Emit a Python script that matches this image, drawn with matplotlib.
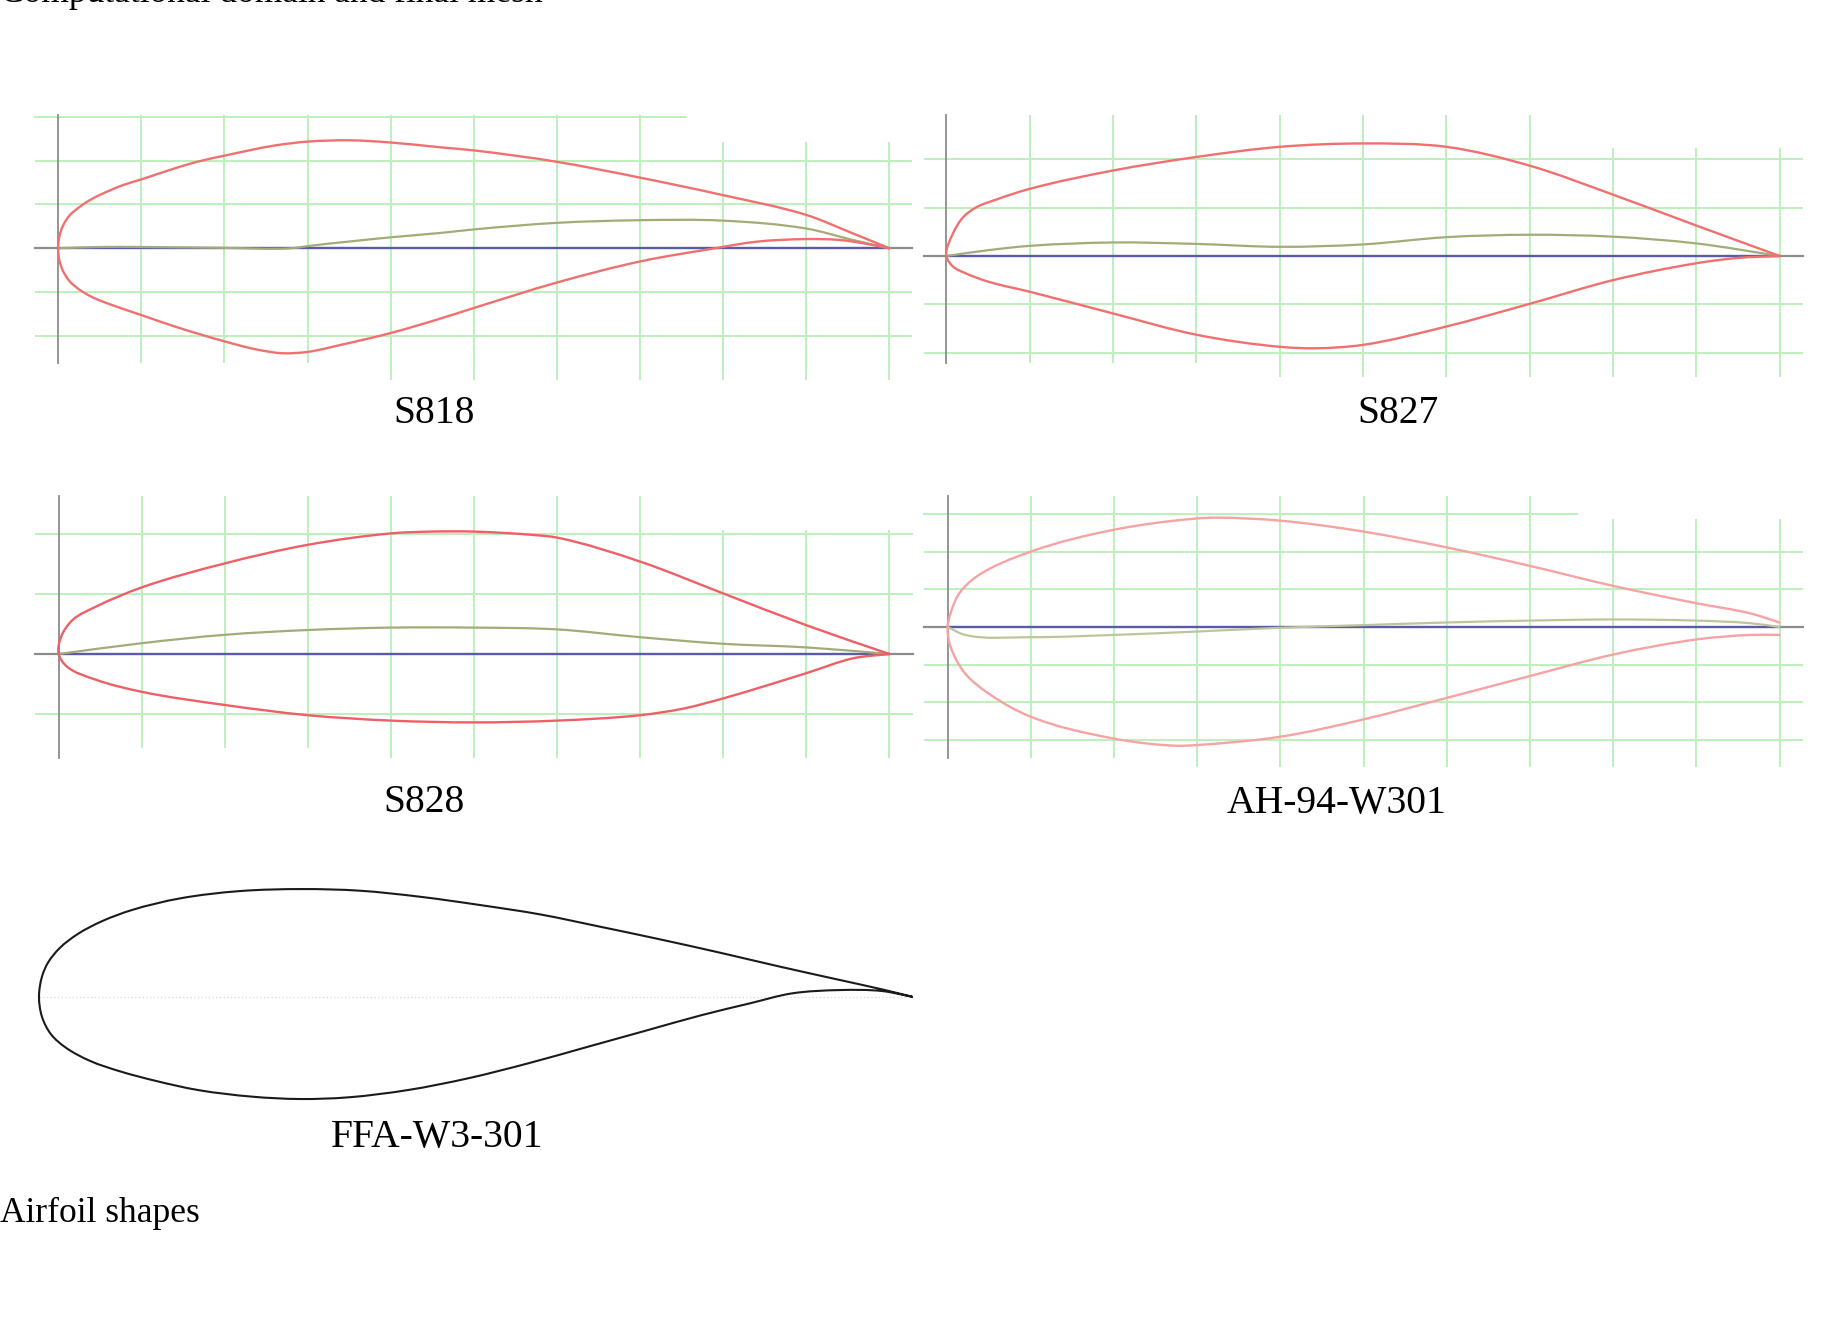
import matplotlib
matplotlib.use("Agg")
import matplotlib.pyplot as plt
import numpy as np
from matplotlib.path import Path
from matplotlib.patches import PathPatch

W, H, DPI = 1849, 1343, 100

# ---------------- data (x and y as fractions of chord) ----------------
s818_xu = [0, .0013, .0062, .0142, .0262, .0383, .0543, .0783, .1005, .1345, .167, .20, .26, .30, .35, .40, .46, .50, .60, .70, .80, .90, .956, 1.0]
s818_yu = [0, .0132, .0265, .0379, .0474, .055, .0626, .0721, .0786, .0893, .0985, .1055, .117, .1215, .123, .1205, .115, .1115, .0985, .0805, .0605, .038, .017, 0]
s818_xl = [0, .0013, .0062, .0142, .0262, .0422, .0704, .10, .14, .20, .24, .27, .30, .34, .40, .46, .50, .60, .70, .79, .84, .90, .94, .97, 1.0]
s818_yl = [0, -.0133, -.0266, -.038, -.0475, -.0562, -.0665, -.076, -.089, -.106, -.1155, -.1195, -.118, -.110, -.0965, -.080, -.068, -.039, -.015, 0, .0075, .0105, .0095, .0055, 0]
s818_xc = [0, .05, .10, .20, .28, .30, .40, .46, .50, .60, .70, .80, .90, .956, 1.0]
s818_yc = [0, .0015, .0015, .0005, 0, .0025, .0125, .0175, .0215, .029, .032, .0315, .0225, .0095, 0]

s827_xu = [0, .008, .02, .035, .06, .10, .20, .30, .40, .50, .60, .70, .80, .90, 1.0]
s827_yu = [0, .0235, .040, .050, .0585, .0695, .0885, .1025, .113, .1165, .113, .0935, .0635, .0315, 0]
s827_xl = [0, .008, .022, .05, .10, .20, .30, .40, .444, .50, .60, .70, .80, .90, .95, 1.0]
s827_yl = [0, -.011, -.0175, -.0265, -.037, -.0595, -.0815, -.094, -.0955, -.092, -.073, -.0495, -.025, -.0075, -.002, 0]
s827_xc = [0, .05, .10, .20, .30, .40, .50, .60, .70, .80, .90, 1.0]
s827_yc = [0, .006, .0105, .014, .0125, .0095, .012, .0195, .022, .020, .013, 0]

s828_xu = [0, .003, .017, .045, .10, .20, .30, .40, .448, .50, .575, .60, .70, .80, .90, 1.0]
s828_yu = [0, .0145, .0285, .0395, .0555, .0755, .091, .1005, .102, .102, .099, .097, .077, .0505, .024, 0]
s828_xl = [0, .01, .045, .10, .20, .30, .40, .50, .60, .70, .752, .80, .90, .957, 1.0]
s828_yl = [0, -.0105, -.0215, -.0315, -.0425, -.051, -.0555, -.057, -.0555, -.051, -.0455, -.037, -.016, -.0035, 0]
s828_xc = [0, .10, .20, .30, .40, .50, .60, .70, .80, .90, 1.0]
s828_yc = [0, .009, .016, .020, .022, .022, .0205, .014, .0085, .0055, 0]

ah_xu = [0, .0035, .014, .035, .10, .20, .30, .324, .40, .50, .60, .70, .80, .90, .965, 1.0]
ah_yu = [0, .018, .0445, .067, .100, .129, .144, .145, .141, .1265, .1055, .081, .0545, .0315, .018, .006]
ah_xl = [0, .0035, .021, .049, .10, .20, .275, .30, .40, .50, .60, .70, .80, .90, .965, 1.0]
ah_yl = [0, -.026, -.0615, -.088, -.119, -.148, -.1575, -.1565, -.1455, -.1225, -.094, -.065, -.0365, -.0165, -.0105, -.0105]
ah_xc = [0, .021, .10, .20, .30, .40, .50, .60, .70, .80, .90, .965, 1.0]
ah_yc = [0, -.0105, -.0135, -.0105, -.006, -.001, .0025, .006, .0085, .010, .0085, .005, 0]

ffa_xu = [0, .0034, .0103, .024, .0447, .0722, .1065, .1615, .2302, .3024, .3677, .4364, .5052, .5739, .6426, .7113, .7801, .8488, .9175, .9656, 1.0]
ffa_yu = [0, .0229, .039, .056, .072, .0865, .0993, .1126, .1210, .1233, .1214, .1145, .1050, .0943, .0802, .0657, .0504, .0344, .0191, .0084, 0]
ffa_xl = [0, .0034, .0137, .0309, .0584, .0928, .134, .1821, .244, .299, .354, .4227, .4914, .5601, .6289, .6976, .7595, .8144, .8625, .9175, .9656, 1.0]
ffa_yl = [0, -.0229, -.043, -.0585, -.0735, -.0855, -.0965, -.1069, -.1145, -.1172, -.1153, -.1069, -.0935, -.0764, -.0573, -.0382, -.0210, -.0076, .0038, .0076, .0065, 0]

names = ["S818", "S827", "S828", "AH-94-W301", "FFA-W3-301"]
grid_x = [.1, .2, .3, .4, .5, .6, .7, .8, .9, 1.0]

# ---------------- figure ----------------
fig = plt.figure(figsize=(W / DPI, H / DPI), dpi=DPI)
fig.patch.set_facecolor("white")
SERIF = ["Liberation Serif", "DejaVu Serif"]

GREEN = "#bdf0bd"
GRAY = "#8c8c8c"
BLUE = "#5a5aaa"
OLIVE = "#a3ab78"


def panel(box, x0, c, y0, s):
    L, T, R, B = box
    ax = fig.add_axes([L / W, 1 - B / H, (R - L) / W, (B - T) / H])
    ax.set_xlim((L - x0) / c, (R - x0) / c)
    ax.set_ylim((y0 - B) / s, (y0 - T) / s)
    ax.axis("off")
    ax.k = s / c
    return ax


def smooth_line(ax, x, y, color, lw, z, ls="-"):
    """Draw a line through the data points with smooth (Bezier) joins."""
    k = ax.k
    P = np.column_stack([np.asarray(x, float), np.asarray(y, float) * k])
    n = len(P)
    T = np.zeros_like(P)
    for i in range(n):
        if i == 0:
            d = P[1] - P[0]
        elif i == n - 1:
            d = P[-1] - P[-2]
        else:
            d1 = P[i] - P[i - 1]
            d2 = P[i + 1] - P[i]
            d = d1 / np.linalg.norm(d1) + d2 / np.linalg.norm(d2)
        T[i] = d / np.linalg.norm(d)
    verts = [P[0]]
    codes = [Path.MOVETO]
    for i in range(n - 1):
        L = np.linalg.norm(P[i + 1] - P[i])
        verts += [P[i] + T[i] * L / 3, P[i + 1] - T[i + 1] * L / 3, P[i + 1]]
        codes += [Path.CURVE4] * 3
    V = np.array(verts)
    V[:, 1] /= k
    ax.add_patch(PathPatch(Path(V, codes), facecolor="none", edgecolor=color,
                           lw=lw, zorder=z, ls=ls, capstyle="round", joinstyle="round"))


def grid(ax, hy, hx, short_y, short_x1, ax_top, ax_bot, groups):
    for y in hy:
        ax.plot(hx, [y, y], color=GREEN, lw=1.4, zorder=1, solid_capstyle="butt")
    if short_y is not None:
        ax.plot([hx[0], short_x1], [short_y, short_y], color=GREEN, lw=1.4, zorder=1)
    for xs, (ya, yb) in groups:
        for x in xs:
            ax.plot([x, x], [ya, yb], color=GREEN, lw=1.4, zorder=1, solid_capstyle="butt")
    ax.plot(hx, [0, 0], color=GRAY, lw=1.6, zorder=2)
    ax.plot([0, 0], [ax_bot, ax_top], color=GRAY, lw=1.3, zorder=2)
    ax.plot([0, 1], [0, 0], color=BLUE, lw=1.6, zorder=3)


def outline(xu, yu, xl, yl):
    # upper surface from TE to LE, then lower surface from LE to TE
    return list(xu[::-1]) + list(xl[1:]), list(yu[::-1]) + list(yl[1:])


def foil(ax, xu, yu, xl, yl, xc, yc, red, olive=OLIVE):
    smooth_line(ax, xc, yc, olive, 1.6, 4)
    ox, oy = outline(xu, yu, xl, yl)
    smooth_line(ax, ox, oy, red, 1.7, 5)


# S818
ax = panel((30, 100, 925, 395), 58.2, 831.2, 248.3, 878)
grid(ax, [.1, .05, -.05, -.1], [-0.028, 1.027], .15, .755, .1518, -.1306,
     [(grid_x[:3], (.1518, -.1306)), (grid_x[3:7], (.1518, -.150)), (grid_x[7:], (.1214, -.150))])
foil(ax, s818_xu, s818_yu, s818_xl, s818_yl, s818_xc, s818_yc, "#f07070")

# S827
ax = panel((915, 100, 1815, 395), 946.4, 833.3, 256, 966)
grid(ax, [.1, .05, -.05, -.1], [-0.027, 1.028], None, None, .1464, -.111,
     [(grid_x[:3], (.1464, -.111)), (grid_x[3:7], (.1464, -.125)), (grid_x[7:], (.1115, -.125))])
foil(ax, s827_xu, s827_yu, s827_xl, s827_yl, s827_xc, s827_yc, "#f07070")

# S828
ax = panel((30, 485, 925, 775), 58.7, 830.6, 654, 1200)
grid(ax, [.1, .05, -.05], [-0.029, 1.029], None, None, .1317, -.0869,
     [(grid_x[:3], (.1317, -.0786)), (grid_x[3:7], (.1317, -.0869)), (grid_x[7:], (.1033, -.0869))])
foil(ax, s828_xu, s828_yu, s828_xl, s828_yl, s828_xc, s828_yc, "#ee5f66")

# AH-94-W301
ax = panel((915, 485, 1815, 775), 947.6, 832.1, 627, 754)
grid(ax, [.1, .05, -.05, -.1, -.15], [-0.028, 1.028], .15, .757, .1737, -.174,
     [(grid_x[:2], (.1737, -.174)), (grid_x[2:7], (.1737, -.186)), (grid_x[7:], (.1428, -.186))])
foil(ax, ah_xu, ah_yu, ah_xl, ah_yl, ah_xc, ah_yc, "#f5a3a3", olive="#c0c49a")

# FFA-W3-301
ax = panel((20, 870, 930, 1125), 39, 873, 996.7, 873)
ax.plot([0, 1], [0, 0], color="#dcdcdc", lw=1.0, ls=":", zorder=1)
ox, oy = outline(ffa_xu, ffa_yu, ffa_xl, ffa_yl)
smooth_line(ax, ox, oy, "#1a1a1a", 1.5, 3)

# ---------------- texts ----------------
def ftext(x, y, s, size, ha="center"):
    fig.text(x / W, 1 - y / H, s, ha=ha, va="baseline", fontsize=size, family=SERIF, color="black")

ftext(434, 423, names[0], 28.5)
ftext(1398, 423, names[1], 28.5)
ftext(424, 812.5, names[2], 28.5)
ftext(1337, 812.5, names[3], 28.5)
ftext(437, 1147, names[4], 28.5)
ftext(0, 1221.5, "Airfoil shapes", 25.5, ha="left")
ftext(0, 1.5, "Computational domain and final mesh", 25.5, ha="left")

fig.savefig("out.png", dpi=DPI, facecolor="white")
